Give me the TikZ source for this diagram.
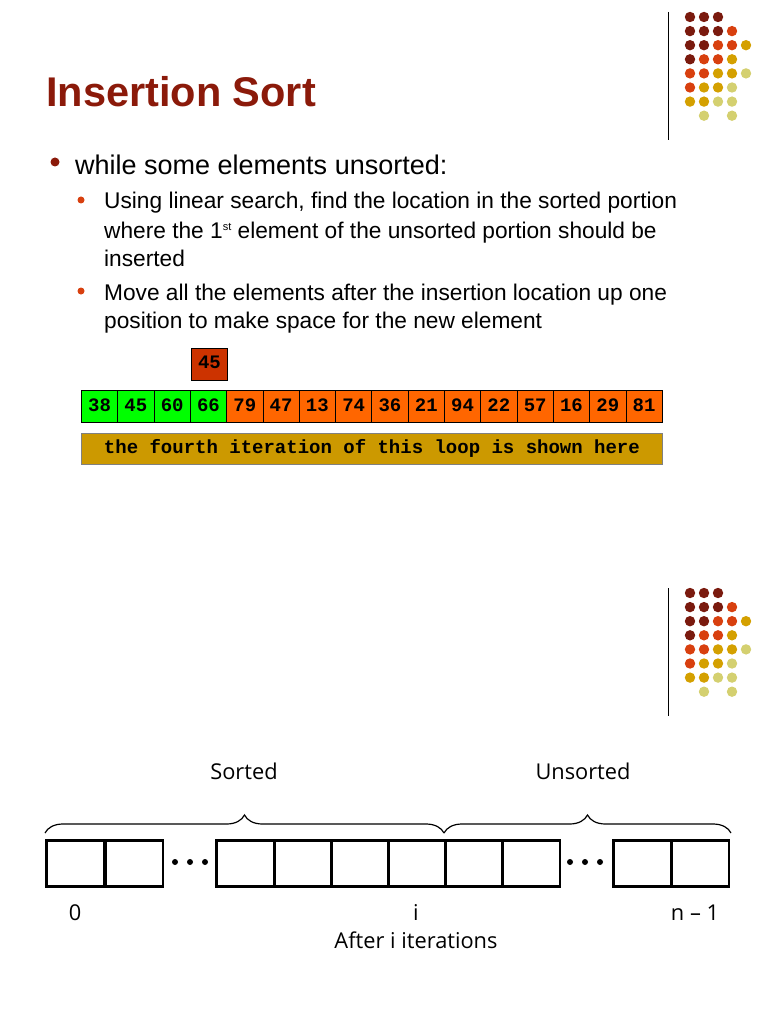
\documentclass[tikz,border=0pt]{standalone}
\usepackage{fontspec}
\setmainfont{Liberation Sans}
\setmonofont{Liberation Mono}
\newfontfamily\figfont{Open Sans}
\usetikzlibrary{decorations.pathreplacing}
\definecolor{titlered}{HTML}{8B1A0A}
\definecolor{dk}{HTML}{7A1A0E}
\definecolor{rd}{HTML}{D8400F}
\definecolor{gd}{HTML}{D4A000}
\definecolor{pl}{HTML}{D4D070}
\definecolor{sortedg}{HTML}{00FF00}
\definecolor{unsortedo}{HTML}{FF6600}
\definecolor{capbox}{HTML}{CC9900}
\definecolor{movebox}{HTML}{CC3300}
\tikzset{
 cell/.style={draw=black, line width=0.8pt, minimum width=36.3pt, minimum height=32pt, inner sep=0pt, text height=12pt, text depth=2pt, font=\ttfamily\bfseries\fontsize{19}{19}\selectfont, anchor=north west},
 txt/.style={anchor=base west, inner sep=0pt},
 sub/.style={txt, font=\fontsize{22.7}{22.7}\selectfont},
 fig/.style={draw=black, line width=2.6pt, minimum width=57.5pt, minimum height=46pt, inner sep=0pt, anchor=north west},
 ftxt/.style={font=\figfont\fontsize{21.8}{21.8}\selectfont, inner sep=0pt, anchor=base},
 brc/.style={decorate, decoration={brace, amplitude=18pt, aspect=0.5}, line width=1.2pt},
}
\begin{document}
\begin{tikzpicture}[x=1pt,y=-1pt]
\useasboundingbox (0,0) rectangle (768,1024);
% decorative dots
\foreach \dy in {0,576}{
 \draw[line width=1pt] (668,12+\dy) -- (668,140+\dy);
 \foreach \r/\cols in {0/{0/dk,1/dk,2/dk},1/{0/dk,1/dk,2/dk,3/rd},2/{0/dk,1/dk,2/rd,3/rd,4/gd},3/{0/dk,1/rd,2/rd,3/gd},4/{0/rd,1/rd,2/gd,3/gd,4/pl},5/{0/rd,1/gd,2/gd,3/pl},6/{0/gd,1/gd,2/pl,3/pl},7/{1/pl,3/pl}}{
  \foreach \c/\col in \cols {
   \fill[\col] (690+14*\c,17+14.1*\r+\dy) circle (5.2);
  }
 }
}
% title and bullets
\node[txt, text=titlered, font=\bfseries\fontsize{41.5}{41.5}\selectfont] (title) at (46,107) {Insertion Sort};
\fill[titlered] (55,162) circle (4.5);
\node[txt, font=\fontsize{27}{27}\selectfont] (b1) at (75,175) {while some elements unsorted:};
\fill[rd] (81,200) circle (3.5);
\node[sub] (b2a) at (104,209) {Using linear search, find the location in the sorted portion};
\node[sub] (b2b) at (104,238) {where the 1\raisebox{8pt}{\fontsize{11}{11}\selectfont st} element of the unsorted portion should be};
\node[sub] (b2c) at (104,266) {inserted};
\fill[rd] (81,291) circle (3.5);
\node[sub] (b3a) at (104,300) {Move all the elements after the insertion location up one};
\node[sub] (b3b) at (104,328) {position to make space for the new element};
% array
\node[cell, fill=movebox] (mv) at (190.9,347.5) {45};
\foreach \v [count=\i from 0] in {38,45,60,66,79,47,13,74,36,21,94,22,57,16,29,81}{
 \pgfmathsetmacro{\xx}{81+36.3*\i}
 \ifnum\i<4 \def\fc{sortedg}\else\def\fc{unsortedo}\fi
 \node[cell, fill=\fc] (a\i) at (\xx,390) {\v};
}
\node[cell, fill=capbox, minimum width=581pt, minimum height=31pt, draw=gray] (cap) at (81,433) {the fourth iteration of this loop is shown here};
% bottom figure
\foreach \x [count=\i] in {45,104,215,273,330,387,444,501,612,670}{
 \node[fig] (f\i) at (\x,839) {};
}
\foreach \x in {175,190,205,570,585,600}{\fill (\x,862) circle (3);}
\draw[brc] (45,833) -- (444,833);
\draw[brc] (444,833) -- (731,833);
\node[ftxt] (ls) at (244,779) {Sorted};
\node[ftxt] (lu) at (583,779) {Unsorted};
\node[ftxt] (l0) at (75,920) {0};
\node[ftxt] (li) at (416,920) {i};
\node[ftxt] (ln) at (695,920) {n – 1};
\node[ftxt] (la) at (416,948) {After i iterations};
\end{tikzpicture}
\end{document}
